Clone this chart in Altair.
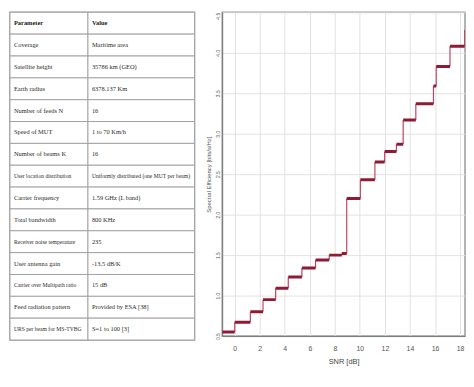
import altair as alt
import pandas as pd

# ---- table data ----
params = ["Parameter", "Coverage", "Satellite height", "Earth radius", "Number of feeds N",
          "Speed of MUT", "Number of beams K", "User location distribution", "Carrier frequency",
          "Total bandwidth", "Receiver noise temperature", "User antenna gain",
          "Carrier over Multipath ratio", "Feed radiation pattern", "URS per beam for MS-TVBG"]
values = ["Value", "Maritime area", "35786 km (GEO)", "6378.137 Km", "16", "1 to 70 Km/h", "16",
          "Uniformly distributed (one MUT per beam)", "1.59 GHz (L band)", "800 KHz", "235",
          "-13.5 dB/K", "15 dB", "Provided by ESA [38]", "S=1 to 100 [3]"]

# ---- step chart data ----
snr_edges = [-1.0, 0.0, 1.25, 2.26, 3.27, 4.28, 5.37, 6.46, 7.55, 8.56, 8.95, 10.04,
             11.2, 11.98, 12.92, 13.46, 14.47, 15.88, 16.1, 17.2, 18.37, 18.4]
se_levels = [0.55, 0.67, 0.80, 0.95, 1.09, 1.23, 1.34, 1.44, 1.50, 1.52, 2.20, 2.43,
             2.65, 2.78, 2.87, 3.17, 3.37, 3.59, 3.83, 4.08, 4.27]
x_ticks = [0, 2, 4, 6, 8, 10, 12, 14, 16, 18]
y_ticks = [0.5, 1, 1.5, 2, 2.5, 3, 3.5, 4, 4.5]

tab = pd.DataFrame({"row": list(range(len(params))), "param": params, "value": values})

TW, TH = 187, 332
split = 79
FONT = "Liberation Serif"
FS = 6.5
ysc = alt.Y("row:O", axis=None, scale=alt.Scale(paddingInner=0, paddingOuter=0))
base = alt.Chart(tab)
cell1 = base.mark_rect(fill="white", stroke="#a3a3a3", strokeWidth=1).encode(
    y=ysc, x=alt.value(0), x2=alt.value(split))
cell2 = base.mark_rect(fill="white", stroke="#a3a3a3", strokeWidth=1).encode(
    y=ysc, x=alt.value(split), x2=alt.value(TW))
body = base.transform_filter("datum.row > 0")
head = base.transform_filter("datum.row == 0")
t1 = body.mark_text(align="left", baseline="middle", font=FONT, color="#2a2a2a").encode(
    y=ysc, x=alt.value(4), text="param:N",
    size=alt.condition("length(datum.param) > 22", alt.value(5.7), alt.value(FS)))
t2 = body.mark_text(align="left", baseline="middle", font=FONT, color="#2a2a2a").encode(
    y=ysc, x=alt.value(split + 4), text="value:N",
    size=alt.condition("length(datum.value) > 30", alt.value(5.7), alt.value(FS)))
h1 = head.mark_text(align="left", baseline="middle", font=FONT, fontSize=FS, color="#222",
                    fontWeight="bold").encode(y=ysc, x=alt.value(4), text="param:N")
h2 = head.mark_text(align="left", baseline="middle", font=FONT, fontSize=FS, color="#222",
                    fontWeight="bold").encode(y=ysc, x=alt.value(split + 4), text="value:N")
table = alt.layer(cell1, cell2, t1, t2, h1, h2).properties(width=TW, height=TH)

# ---- step chart ----
hz = pd.DataFrame({"x": snr_edges[:-1], "x2": snr_edges[1:], "y": se_levels})
vt = pd.DataFrame({"x": snr_edges[1:-1], "y": se_levels[:-1], "y2": se_levels[1:]})

xs = alt.Scale(domain=[-1, 18.4], nice=False, zero=False)
ys = alt.Scale(domain=[0.5, 4.5], nice=False, zero=False)

xax = alt.Axis(values=x_ticks, title="SNR [dB]", grid=True, gridColor="#e2e2e2",
               labelFontSize=7, labelColor="#555", labelPadding=9, ticks=False,
               domainColor="#777", titleFontSize=7.5, titleColor="#444", titleFontWeight="normal",
               titlePadding=6, labelFont="Liberation Sans", titleFont="Liberation Sans")
yax = alt.Axis(values=y_ticks, title="Spectral Efficiency [bits/s/Hz]", grid=True, gridColor="#e2e2e2",
               labelFontSize=5, labelColor="#555", labelAngle=270, labelPadding=2, ticks=False,
               labelAlign=alt.expr("datum.value >= 4.5 ? 'right' : 'center'"),
               labelBaseline="bottom",
               minExtent=9, maxExtent=9,
               domainColor="#777", titleFontSize=6, titleColor="#555", titleFontWeight="normal",
               titlePadding=2, labelFont="Liberation Sans", titleFont="Liberation Sans")

vert = alt.Chart(vt).mark_rule(color="#c4445f", strokeWidth=1.2, clip=True).encode(
    x=alt.X("x:Q", scale=xs, axis=xax), y=alt.Y("y:Q", scale=ys, axis=yax), y2="y2:Q")
horiz = alt.Chart(hz).mark_rule(color="#8e1b36", strokeWidth=3, clip=True).encode(
    x=alt.X("x:Q", scale=xs, axis=xax), x2="x2:Q", y=alt.Y("y:Q", scale=ys, axis=yax))
steps = alt.layer(vert, horiz).properties(width=246, height=328)

chart = alt.hconcat(table, steps, spacing=8).properties(
    background="white", padding=0
).configure_view(stroke="#999", strokeWidth=1.5)

chart.save("out.html", embed_options={"renderer": "svg", "actions": False})
